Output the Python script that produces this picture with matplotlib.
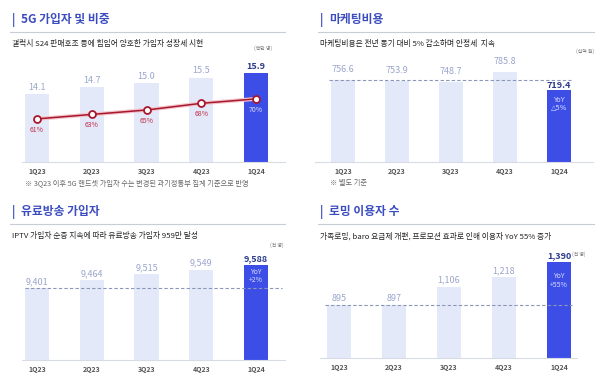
import matplotlib.pyplot as plt

plt.rcParams['font.family'] = ['Noto Sans CJK KR', 'DejaVu Sans']

# 데이터
quarters = ['1Q23', '2Q23', '3Q23', '4Q23', '1Q24']
subs_5g = [14.1, 14.7, 15.0, 15.5, 15.9]
ratio_5g = [61, 63, 65, 68, 70]
marketing = [756.6, 753.9, 748.7, 785.8, 719.4]
paytv = [9401, 9464, 9515, 9549, 9588]
roaming = [895, 897, 1106, 1218, 1390]

W, H = 600, 379
LIGHT = '#e4e9fa'
BLUE = '#3d4ee6'
LABEL = '#9aa6cc'
NAVY = '#2c3a8c'
TITLE = '#3b4cc0'

fig = plt.figure(figsize=(6, 3.79), dpi=100)
fig.patch.set_facecolor('white')


def txt(x, y, s, **kw):
    fig.text(x / W, 1 - y / H, s, **kw)


def header(x, y, title, subtitle, line_right):
    txt(x, y, '|', color=TITLE, fontsize=8.5, va='center', fontweight='bold')
    txt(x + 9, y, title, color=TITLE, fontsize=8.5, va='center', fontweight='bold')
    fig.add_artist(plt.Line2D([(x - 2) / W, line_right / W], [1 - (y + 12) / H] * 2,
                              color='#c8ccd8', lw=0.8))
    txt(x, y + 24, subtitle, color='#222222', fontsize=5.6, va='center', fontweight='medium')


def panel(L, R, T, B, centers, ylim):
    ax = fig.add_axes([L / W, 1 - B / H, (R - L) / W, (B - T) / H])
    sp = (centers[-1] - centers[0]) / 4
    ax.set_xlim((L - centers[0]) / sp, (R - centers[0]) / sp)
    ax.set_ylim(*ylim)
    for s in ['top', 'right', 'left']:
        ax.spines[s].set_visible(False)
    ax.spines['bottom'].set_color('#d8dbe6')
    ax.spines['bottom'].set_linewidth(0.8)
    ax.set_yticks([])
    ax.set_xticks(range(len(quarters)))
    ax.set_xticklabels(quarters, fontsize=5, color='#555555', fontweight='bold')
    ax.tick_params(axis='x', length=0, pad=4)
    ax.patch.set_alpha(0)
    return ax


def bars(ax, values, fmt, dy, tight_last=False):
    colors = [LIGHT] * (len(values) - 1) + [BLUE]
    ax.bar(range(len(values)), values, width=0.44, color=colors, zorder=2)
    for i, v in enumerate(values):
        last = i == len(values) - 1
        off, va = dy, 'bottom'
        if last and tight_last:
            off, va = 1.2, 'baseline'
        ax.annotate(fmt.format(v), (i, v), xytext=(0, off), textcoords='offset points',
                    ha='center', va=va, fontsize=6.5,
                    color=NAVY if last else LABEL, fontweight='bold' if last else 'normal',
                    zorder=5)


# 5G 가입자 및 비중
header(12, 20, '5G 가입자 및 비중', '갤럭시 S24 판매호조 등에 힘입어 양호한 가입자 성장세 시현', 285)
ax1 = panel(22, 285, 60, 162, [37, 92, 146, 201, 256], (8.27, 17.0))
bars(ax1, subs_5g, '{:.1f}', 1.5)
ax1b = ax1.twinx()
ax1b.set_ylim(41.6, 87.5)
ax1b.axis('off')
x = range(len(ratio_5g))
ax1b.plot(x, ratio_5g, color='#f3c4cc', lw=2.8, zorder=3)
ax1b.plot(x, ratio_5g, color='#a8182c', lw=1.1, marker='o', markersize=5,
          markerfacecolor='white', markeredgecolor='#a8182c', markeredgewidth=1.3, zorder=4)
for i, r in enumerate(ratio_5g):
    last = i == len(ratio_5g) - 1
    ax1b.annotate(f'{r}%', (i, r), xytext=(0, -5), textcoords='offset points',
                  ha='center', va='top', fontsize=5,
                  color='#d6dcff' if last else '#c0304a')
txt(272, 48, '(백만 명)', color='#777777', fontsize=3.5, ha='right', va='center')
txt(25, 183, '※ 3Q23 이후 5G 핸드셋 가입자 수는 변경된 과기정통부 집계 기준으로 반영',
    color='#666666', fontsize=5.2, va='center')

# 마케팅비용
header(320, 20, '마케팅비용', '마케팅비용은 전년 동기 대비 5% 감소하며 안정세  지속', 594)
ax2 = panel(315, 593, 60, 162, [343, 397, 451, 506, 559], (454, 830))
bars(ax2, marketing, '{:.1f}', 4, tight_last=True)
ax2.axhline(marketing[0], xmin=0.05, xmax=0.92, color='#8a95b8', lw=0.8, ls=(0, (3, 2)), zorder=3)
ax2.text(4, marketing[-1] - 25, 'YoY\n△5%', ha='center', va='top', fontsize=5,
         color='#d6dcff', linespacing=1.3, zorder=4, family=['DejaVu Sans'])
txt(594, 51, '(십억 원)', color='#777777', fontsize=3.5, ha='right', va='center')
txt(330, 183, '※ 별도 기준', color='#666666', fontsize=5.2, va='center')

# 유료방송 가입자
header(12, 212, '유료방송 가입자', 'IPTV 가입자 순증 지속에 따라 유료방송 가입자 959만 달성', 285)
ax3 = panel(22, 285, 250, 360, [37, 92, 146, 201, 256], (8816, 9710))
bars(ax3, paytv, '{:,}', 1.5)
ax3.axhline(paytv[0], xmin=0.01, xmax=0.99, color='#8a95b8', lw=0.8, ls=(0, (3, 2)), zorder=3)
ax3.text(4, paytv[-1] - 22, 'YoY\n+2%', ha='center', va='top', fontsize=5,
         color='#d6dcff', linespacing=1.1, zorder=4)
txt(284, 245, '(천 명)', color='#777777', fontsize=3.5, ha='right', va='center')

# 로밍 이용자 수
header(320, 212, '로밍 이용자 수', '가족로밍, baro 요금제 개편, 프로모션 효과로 인해 이용자 YoY 55% 증가', 594)
ax4 = panel(320, 577, 250, 358, [339, 394, 449, 504, 559], (285, 1528))
bars(ax4, roaming, '{:,}', 1.5)
ax4.axhline(roaming[0], xmin=0.02, xmax=0.98, color='#8a95b8', lw=0.8, ls=(0, (3, 2)), zorder=3)
ax4.text(4, roaming[-1] - 120, 'YoY\n+55%', ha='center', va='top', fontsize=5,
         color='#d6dcff', linespacing=1.1, zorder=4)
txt(585, 254, '(천 명)', color='#777777', fontsize=3.5, ha='right', va='center')

fig.savefig('out.png', dpi=100)
